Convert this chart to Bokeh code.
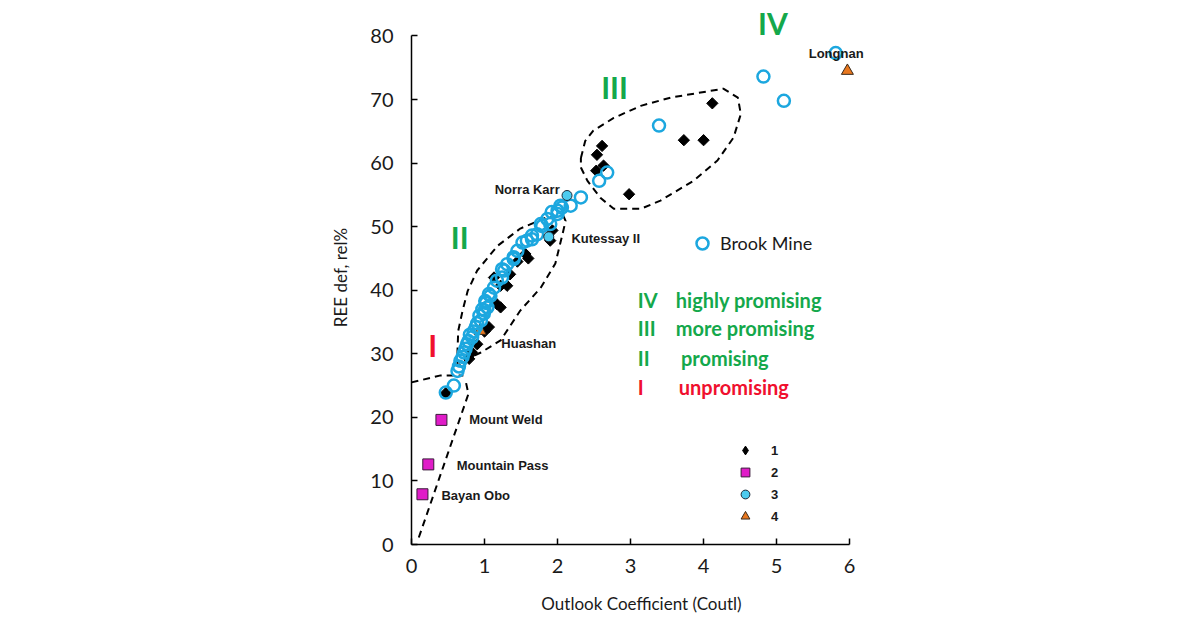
from math import pi, nan
from bokeh.plotting import figure
from bokeh.models import Range1d, FixedTicker, Label, LabelSet, Legend, LegendItem, ColumnDataSource
from bokeh.core.properties import value
from bokeh.embed import file_html
from bokeh.resources import INLINE

# ---------------- data ----------------
brook_x = [0.47, 0.58, 0.63, 0.65, 0.67, 0.70, 0.72, 0.74, 0.76, 0.78, 0.80, 0.83, 0.85, 0.88,
           0.90, 0.93, 0.95, 0.97, 0.99, 1.00, 1.01, 1.02, 1.04, 1.06, 1.08, 1.13, 1.17, 1.24,
           1.24, 1.27, 1.31, 1.40, 1.40, 1.45, 1.52, 1.58, 1.65, 1.65, 1.72, 1.77, 1.79, 1.86,
           1.90, 1.92, 2.00, 2.00, 2.04, 2.06, 2.18, 2.32, 2.57, 2.68, 3.39, 4.82, 5.10, 5.81]
brook_y = [23.9, 25.0, 27.3, 28.0, 28.9, 29.5, 30.2, 30.8, 31.5, 32.0, 33.0, 32.6, 33.5, 34.2,
           34.8, 36.0, 35.2, 37.0, 36.3, 36.8, 38.3, 38.0, 37.3, 39.4, 39.1, 40.4, 41.5, 42.0,
           43.3, 43.1, 44.1, 44.9, 45.2, 46.2, 47.5, 47.8, 48.0, 48.6, 48.8, 50.4, 50.1, 51.2,
           50.4, 52.3, 52.5, 52.0, 53.3, 53.0, 53.3, 54.6, 57.2, 58.5, 65.9, 73.6, 69.8, 77.3]

type1_x = [0.47, 0.79, 0.83, 0.90, 1.00, 1.06, 1.17, 1.22, 1.13, 1.22, 1.31, 1.35, 1.45, 1.56,
           1.60, 1.90, 1.93, 2.54, 2.61, 2.63, 2.53, 2.98, 3.73, 4.00, 4.12]
type1_y = [23.8, 29.2, 30.2, 31.5, 33.5, 34.2, 37.8, 37.3, 42.0, 40.7, 40.7, 42.5, 44.5, 45.7,
           45.0, 47.8, 49.4, 61.3, 62.7, 59.6, 58.8, 55.1, 63.6, 63.6, 69.4]

type2_names = ["Mount Weld", "Mountain Pass", "Bayan Obo"]
type2_x = [0.41, 0.23, 0.15]
type2_y = [19.6, 12.6, 7.9]

type3_names = ["Norra Karr", "Kutessay II"]
type3_x = [2.13, 1.88]
type3_y = [54.9, 48.4]

type4_names = ["Longnan", "Huashan"]
type4_x = [5.97, 0.94]
type4_y = [74.5, 33.6]

x_ticks = [0, 1, 2, 3, 4, 5, 6]
y_ticks = [0, 10, 20, 30, 40, 50, 60, 70, 80]

# region boundaries (dashed outlines)
bound_h_x = [0.0, 0.40, 0.71]
bound_h_y = [25.5, 26.6, 26.6]
bound_v_x = [0.10, 0.78, 0.74]
bound_v_y = [1.1, 23.7, 25.8]
region2_x = [0.63, 0.63, 0.64, 0.70, 0.77, 0.90, 1.18, 1.49, 1.84, 2.08, 2.11, 2.07, 1.97,
             1.77, 1.49, 1.22, 0.95, 0.77, 0.67, 0.63]
region2_y = [28.0, 30.5, 33.6, 36.8, 39.9, 43.1, 47.0, 49.7, 51.4, 51.7, 50.9, 48.9, 44.2,
             40.4, 36.8, 32.1, 30.2, 29.2, 28.4, 28.0]
region3_x = [2.32, 2.38, 2.49, 2.77, 3.14, 3.55, 4.27, 4.47, 4.51, 4.41, 4.19, 3.86, 3.41,
             3.14, 2.77, 2.59, 2.41, 2.32, 2.32]
region3_y = [60.8, 63.5, 65.1, 67.1, 69.0, 70.3, 71.7, 70.3, 67.7, 64.0, 60.4, 57.2, 54.1,
             52.8, 52.8, 54.5, 57.2, 59.3, 60.8]

# text annotations
mine_names = ["Norra Karr", "Kutessay II", "Huashan", "Mount Weld", "Mountain Pass", "Bayan Obo", "Longnan"]
mine_lx = [2.03, 2.19, 1.23, 0.79, 0.62, 0.41, 5.44]
mine_ly = [55.9, 48.1, 31.6, 19.6, 12.4, 7.7, 77.2]
mine_align = ["right", "left", "left", "left", "left", "left", "left"]

region_numerals = ["IV", "III", "II", "I"]
region_nx = [4.95, 2.78, 0.66, 0.29]
region_ny = [82.0, 72.0, 48.3, 31.4]
region_colors = ["#14A84B", "#14A84B", "#14A84B", "#F0102E"]

cat_numerals = ["IV", "III", "II", "I"]
cat_texts = ["highly promising", "more promising", "promising", "unpromising"]
cat_nx = 3.10
cat_tx = [3.62, 3.62, 3.69, 3.66]
cat_y = [38.5, 34.1, 29.4, 24.8]
cat_colors = ["#14A84B", "#14A84B", "#14A84B", "#F0102E"]

# ---------------- figure ----------------
p = figure(frame_width=460, frame_height=534,
           min_border_left=411, min_border_right=329, min_border_top=10, min_border_bottom=83,
           x_range=Range1d(0, 6.3), y_range=Range1d(0, 84),
           output_backend="svg", toolbar_location=None)
p.outline_line_color = None
p.grid.visible = False
p.background_fill_color = "white"

for ax, ticks, bnds in ((p.xaxis[0], x_ticks, (0, 6)), (p.yaxis[0], y_ticks, (0, 80))):
    ax.ticker = FixedTicker(ticks=ticks)
    ax.bounds = bnds
    ax.axis_line_color = "black"
    ax.axis_line_width = 1.5
    ax.major_tick_line_color = "black"
    ax.major_tick_line_width = 1.5
    ax.major_tick_in = 6
    ax.major_tick_out = 0
    ax.minor_tick_line_color = None
    ax.major_label_text_font = "Lato"
    ax.major_label_text_font_size = "20px"
    ax.major_label_text_color = "#1a1a1a"
    ax.axis_label_text_font = "Lato"
    ax.axis_label_text_font_size = "17px"
    ax.axis_label_text_font_style = "normal"
    ax.axis_label_text_color = "#1a1a1a"
p.xaxis.major_label_standoff = 14
p.yaxis.major_label_standoff = 18
p.xaxis.axis_label = "Outlook Coefficient (Coutl)"
p.yaxis.axis_label = "REE def, rel%"
p.xaxis.axis_label_standoff = 17
p.yaxis.axis_label_standoff = 16

dash = dict(line_color="black", line_width=2, line_dash="7 5")
p.line(bound_h_x, bound_h_y, **dash)
p.line(bound_v_x, bound_v_y, **dash)
p.line(region2_x, region2_y, **dash)
p.line(region3_x, region3_y, **dash)

r1 = p.scatter(type1_x, type1_y, marker="square", angle=pi / 4, size=8, fill_color="black", line_color="black")
r4 = p.scatter(type4_x, type4_y, marker="triangle", size=12, fill_color="#E8771E", line_color="#3a2a1a", line_width=1)
r2 = p.scatter(type2_x, type2_y, marker="square", size=11, fill_color="#E01CC8", line_color="#3a1a3a", line_width=1)
rb = p.scatter(brook_x, brook_y, marker="circle", size=12, fill_color=None, line_color="#1CA7DF", line_width=2.5)
r3 = p.scatter(type3_x, type3_y, marker="circle", size=10, fill_color="#4CCBEF", line_color="#1a2a3a", line_width=1)
# legend swatch for type 1 (a diamond; not drawn in the plot area)
r1_key = p.scatter([nan], [nan], marker="diamond", size=8, fill_color="black", line_color="black")

# mine labels
src = ColumnDataSource(dict(x=mine_lx, y=mine_ly, t=mine_names, a=mine_align))
p.add_layout(LabelSet(x="x", y="y", text="t", source=src, text_align="a", text_baseline="middle",
                      text_font=value("Liberation Sans"), text_font_style="bold",
                      text_font_size="13px", text_color="#1a1a1a"))

for t, x, y, c in zip(region_numerals, region_nx, region_ny, region_colors):
    p.add_layout(Label(x=x, y=y, text=t, text_align="center", text_baseline="middle",
                       text_font="Lato", text_font_style="bold", text_font_size="30px", text_color=c))

for n, t, tx, y, c in zip(cat_numerals, cat_texts, cat_tx, cat_y, cat_colors):
    p.add_layout(Label(x=cat_nx, y=y, text=n, text_align="left", text_baseline="middle",
                       text_font="Lato", text_font_style="bold", text_font_size="20px", text_color=c))
    p.add_layout(Label(x=tx, y=y, text=t, text_align="left", text_baseline="middle",
                       text_font="Lato", text_font_style="bold", text_font_size="20px", text_color=c))

# legends
leg_b = Legend(items=[LegendItem(label="Brook Mine", renderers=[rb])], location=(276, 286),
               glyph_width=30, glyph_height=30, label_height=30, label_standoff=3, padding=0, margin=0,
               spacing=0, border_line_color=None, background_fill_alpha=0,
               label_text_font="Lato", label_text_font_size="18px", label_text_color="#1a1a1a")
p.add_layout(leg_b)

leg_t = Legend(items=[LegendItem(label="1", renderers=[r1_key]), LegendItem(label="2", renderers=[r2]),
                      LegendItem(label="3", renderers=[r3]), LegendItem(label="4", renderers=[r4])],
               location=(323, 17), glyph_width=22, glyph_height=22, label_height=22, label_standoff=15,
               padding=0, margin=0, spacing=0, border_line_color=None, background_fill_alpha=0,
               label_text_font="Liberation Sans", label_text_font_style="bold",
               label_text_font_size="13px", label_text_color="#1a1a1a")
p.add_layout(leg_t)

open("out.html", "w").write(file_html(p, INLINE))
